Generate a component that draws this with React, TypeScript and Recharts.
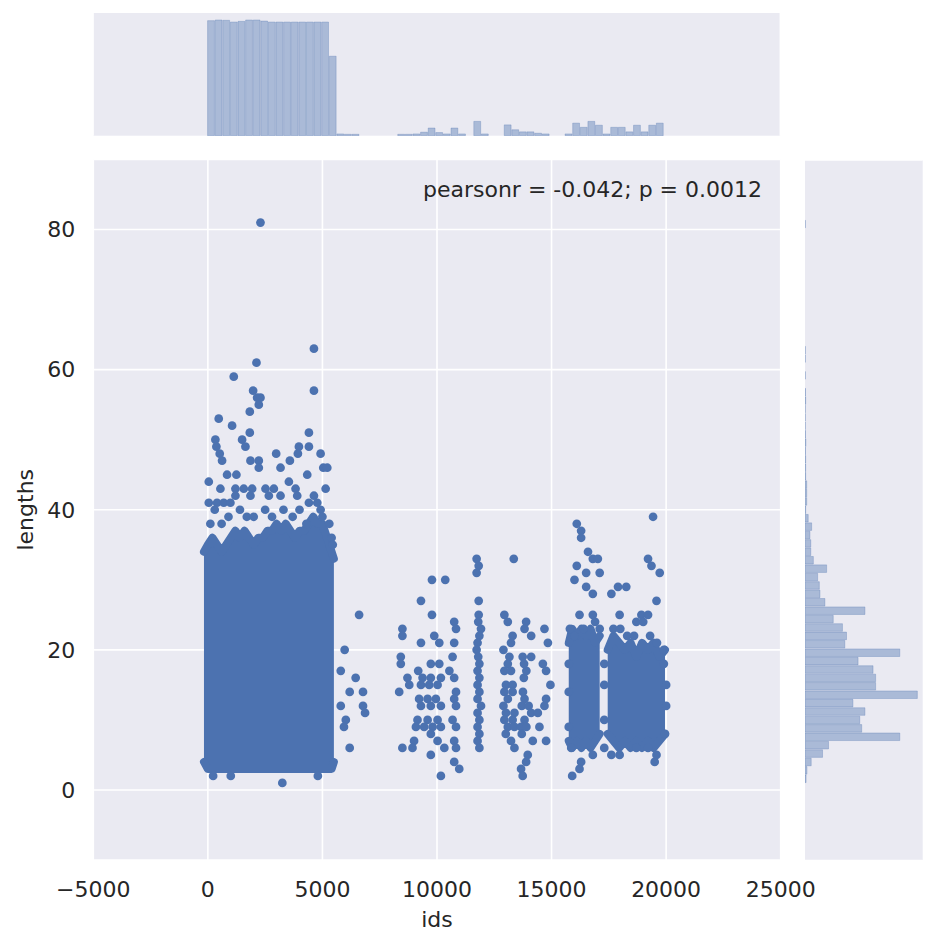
import React from 'react';
import {
  ComposedChart, BarChart, Bar, Area, Scatter, XAxis, YAxis, ZAxis, CartesianGrid, Label
} from 'recharts';

const BLUE = '#4c72b0';
const PANEL = '#eaeaf2';
const INK = '#262626';
const FONT = '"DejaVu Sans", sans-serif';

const W = 938;
const H = 947;
// panel edges in px
const MAIN = { left: 93.3, top: 159.5, right: 780.7, bottom: 860 };
const TOP = { top: 13, bottom: 135.7 };
const SIDE = { left: 805, right: 922.7 };

const xDomain = [-5000, 25000];
const yDomain = [-10, 90];
const xTicks = [-5000, 0, 5000, 10000, 15000, 20000, 25000];
const yTicks = [0, 20, 40, 60, 80];

// top marginal histogram of ids: 60 bins of 332 starting at 0
const idBinWidth = 332;
const idCounts = [
  330, 332, 331, 326, 328, 332, 332, 329, 326, 326, 326, 326, 326, 326, 326, 326,
  228, 5, 4, 4, 0, 0, 0, 0, 0, 4, 4, 5, 10, 22,
  9, 5, 22, 5, 0, 41, 5, 0, 0, 31, 17, 11, 11, 7, 5, 0, 0, 5, 36, 24,
  41, 30, 5, 24, 24, 11, 30, 11, 30, 36,
];
const idCountMax = 352;

// right marginal histogram of lengths: bins of 1.2 starting at 1
const lenBinStart = 1;
const lenBinWidth = 1.2;
const lenCounts = [
  5, 9, 29, 82, 110, 443, 265, 256, 280, 224,
  525, 330, 330, 318, 248, 443, 186, 194, 175, 132,
  280, 93, 70, 67, 59, 101, 39, 27, 27, 23,
  31, 15, 3, 8, 8, 8, 3, 3, 3, 2,
  4, 2, 1, 1, 1, 3, 2, 0, 1, 0,
  1, 1, 0, 0, 0, 0, 0, 0, 0, 0,
  0, 0, 0, 0, 0, 0, 1,
];
const lenCountMax = 550;

// solid mass of overlapping dots, ids 0..5500 (outline of dot centres)
const massIds = [-170, 0, 200, 400, 600, 800, 1000, 1200, 1400, 1600, 1800, 2000, 2200, 2400, 2600, 2800, 3000, 3200, 3400, 3600, 3800, 4000, 4200, 4400, 4600, 4800, 5000, 5200, 5400, 5500];
const massLow = [4, 3, 3, 3, 3, 3, 3, 3, 3, 3, 3, 3, 3, 3, 3, 3, 3, 3, 3, 3, 3, 3, 3, 3, 3, 3, 3, 3, 3, 4];
const massHigh = [34, 35, 36, 35, 34, 35, 36, 37, 36, 37, 36, 35, 36, 36, 37, 37, 38, 37, 38, 37, 36, 37, 37, 38, 39, 38, 38, 36, 34, 33];

// dense clusters at the high ids
const clusterAIds = [15750, 15900, 16100, 16300, 16500, 16700, 16900, 17100];
const clusterALow = [7, 6, 7, 6, 7, 6, 7, 8];
const clusterAHigh = [21, 23, 22, 23, 22, 23, 21, 22];
const clusterBIds = [17450, 17700, 17950, 18200, 18450, 18700, 18950, 19200, 19450, 19700, 19950];
const clusterBLow = [8, 7, 6, 7, 6, 7, 6, 7, 6, 7, 8];
const clusterBHigh = [20, 22, 21, 20, 21, 19, 21, 20, 21, 19, 20];

// single points [id, length]
const upperPoints = [
  [2296, 81], [4629, 63], [2121, 61], [1130, 59], [4629, 57], [1975, 57], [2150, 56], [2296, 56],
  [2223, 55], [1830, 54], [474, 53], [1057, 52], [328, 50], [372, 49], [517, 48], [620, 47],
  [1494, 50], [1640, 49], [1830, 51], [4410, 51], [4410, 49], [3973, 49], [3929, 48], [2981, 48],
  [4920, 48], [3579, 47], [3171, 46], [1859, 47], [2223, 47], [2223, 46], [4337, 45], [5037, 46],
  [5212, 46], [838, 45], [1246, 45], [40, 44], [547, 43], [1203, 43], [1567, 43], [1932, 43],
  [1203, 42], [1859, 42], [2515, 43], [2880, 43], [3171, 42], [2661, 42], [3536, 44], [3827, 43],
  [3900, 42], [5140, 43], [40, 41], [401, 41], [693, 41], [984, 41], [4629, 42], [4775, 41],
  [4410, 41], [4920, 40], [109, 38], [300, 40], [900, 39], [1400, 40], [1700, 39], [2500, 40],
  [2800, 39], [3300, 40], [3700, 39], [4000, 40], [4300, 38], [5000, 39], [5300, 38], [600, 38],
  [2000, 39], [5400, 36], [5450, 35], [230, 2], [3250, 1], [1000, 2], [4800, 2],
];

const middlePoints = [
  [6600, 25], [5970, 20], [6450, 16], [6190, 14], [6770, 14], [6770, 12], [6860, 11], [6020, 10],
  [5940, 9], [6190, 6], [5800, 17], [5800, 12],
  [8490, 23], [8490, 22], [8420, 19], [8420, 18], [8710, 16], [8790, 15], [8350, 14], [8490, 6],
  [9000, 7], [8930, 6], [9180, 17], [9300, 27], [9300, 21],
  [9780, 30], [10360, 30], [9780, 25], [9880, 22], [10100, 21], [9730, 18], [10100, 18],
  [9370, 16], [9730, 16], [10170, 16], [9300, 15], [9660, 15], [10025, 15], [9220, 13], [9590, 13],
  [9950, 13], [9300, 12], [9730, 12], [10170, 12], [9150, 10], [9590, 10], [10025, 10], [9080, 9],
  [9440, 9], [9810, 9], [10170, 9], [9730, 8], [10025, 7], [10320, 6], [9730, 5], [10170, 2],
  [10750, 24], [10830, 23], [10750, 21], [10680, 19], [10540, 17], [10750, 16], [10830, 14],
  [10750, 13], [10830, 12], [10680, 10], [10830, 9], [10750, 7], [10830, 6], [10750, 4], [10970, 3],
  [11730, 33], [11820, 32], [11730, 31], [11820, 27], [11820, 25], [11800, 24], [11920, 23],
  [11850, 22], [11770, 21], [11730, 20], [11800, 19], [11850, 18], [11770, 17], [11850, 16],
  [11770, 15], [11850, 14], [11770, 13], [11920, 12], [11770, 11], [11850, 10], [11770, 9],
  [11850, 8], [11770, 7], [11850, 6],
  [13350, 33],
  [12940, 25], [13090, 24], [13300, 22], [13230, 21], [12900, 20], [13160, 19], [13090, 18],
  [12940, 17], [13230, 17], [13010, 15], [13300, 15], [12940, 14], [13300, 14], [13090, 13],
  [12900, 12], [13010, 11], [13380, 11], [12940, 10], [13300, 10], [13090, 9], [13380, 9],
  [13000, 8], [13230, 7], [13380, 6],
  [13890, 24], [13820, 23], [14110, 22], [13740, 19], [14110, 19], [13790, 16], [14690, 23],
  [14840, 21], [14620, 18], [14760, 17], [14950, 15], [14760, 13], [14690, 12], [13820, 13],
  [14110, 11], [13820, 10], [14400, 11], [13670, 9], [14470, 9], [14180, 7], [14760, 7],
  [13960, 5], [13890, 4], [13670, 3], [13740, 2], [13700, 12], [13750, 14], [13700, 8],
  [13900, 9], [14000, 12], [13900, 17], [13800, 18],
];

const farPoints = [
  [16100, 38], [16290, 37], [16290, 36], [16590, 34], [16800, 33], [17020, 33], [16100, 32],
  [16000, 30], [16510, 31], [17100, 31], [16510, 29], [16800, 28], [17610, 28], [17900, 29],
  [18260, 29], [19430, 39], [19210, 33], [19360, 32], [19720, 31], [19580, 27], [16220, 25],
  [16800, 25], [17970, 25], [18920, 25], [19210, 25], [18700, 24],
  [15860, 6], [16290, 4], [16220, 3], [15900, 2], [16800, 5], [17610, 5], [17970, 5], [19500, 4],
  [19580, 5], [19210, 6], [18700, 6], [17300, 6],
  [15800, 23], [16000, 22], [16400, 23], [16900, 24], [17100, 23], [17700, 23], [18000, 23],
  [18300, 22], [18600, 22], [19000, 24], [19300, 22], [19600, 21], [19900, 20], [19900, 18],
  [17300, 10], [17300, 15], [17300, 18], [15750, 14], [15750, 9], [15750, 18], [20000, 12],
  [20000, 15], [19950, 8],
];

const toRange = (ids: number[], lo: number[], hi: number[]) =>
  ids.map((x, i) => ({ x, range: [lo[i], hi[i]] }));
const toPoints = (pts: number[][]) => pts.map(([x, y]) => ({ x, y }));

const massData = toRange(massIds, massLow, massHigh);
const clusterAData = toRange(clusterAIds, clusterALow, clusterAHigh);
const clusterBData = toRange(clusterBIds, clusterBLow, clusterBHigh);
const pointData = toPoints([...upperPoints, ...middlePoints, ...farPoints]);

const idBins = idCounts.map((count, i) => ({ mid: (i + 0.5) * idBinWidth, count }));
const lenBins = lenCounts.map((count, i) => ({ mid: lenBinStart + (i + 0.5) * lenBinWidth, count }));

const mainW = MAIN.right - MAIN.left;
const mainH = MAIN.bottom - MAIN.top;
const idBarPx = (idBinWidth * mainW) / (xDomain[1] - xDomain[0]);
const lenBarPx = (lenBinWidth * mainH) / (yDomain[1] - yDomain[0]);

const minus = (v: number) => String(v).replace('-', '\u2212');
const tickStyle = { fill: INK, fontSize: 22, fontFamily: FONT };
const noMargin = { top: 0, right: 0, bottom: 0, left: 0 };

const App: React.FC = () => {
  const massProps = {
    type: 'linear' as const,
    dataKey: 'range',
    fill: BLUE,
    fillOpacity: 1,
    stroke: BLUE,
    strokeWidth: 8,
    strokeLinejoin: 'round' as const,
    strokeLinecap: 'round' as const,
    dot: false,
    activeDot: false,
    isAnimationActive: false,
  };

  return (
    <div style={{ position: 'absolute', left: 0, top: 0, width: W, height: H, background: '#fff', fontFamily: FONT }}>
      <ComposedChart width={W} height={H} margin={{ top: MAIN.top, right: W - MAIN.right, bottom: 0, left: 0 }}>
        <CartesianGrid fill={PANEL} fillOpacity={1} stroke="#fff" strokeWidth={1.6} />
        <XAxis
          type="number"
          dataKey="x"
          domain={xDomain}
          ticks={xTicks}
          tickFormatter={minus}
          height={H - MAIN.bottom}
          axisLine={false}
          tickLine={false}
          tickSize={0}
          tickMargin={21}
          tick={tickStyle}
          interval={0}
        >
          <Label value="ids" position="insideBottom" offset={20} fill={INK} fontSize={22} fontFamily={FONT} />
        </XAxis>
        <YAxis
          type="number"
          domain={yDomain}
          ticks={yTicks}
          width={MAIN.left}
          axisLine={false}
          tickLine={false}
          tickSize={0}
          tickMargin={18}
          tick={tickStyle}
          interval={0}
        >
          <Label
            value="lengths"
            angle={-90}
            position="insideLeft"
            offset={25}
            fill={INK}
            fontSize={22}
            fontFamily={FONT}
            style={{ textAnchor: 'middle' }}
          />
        </YAxis>
        <ZAxis range={[60, 60]} />
        <Area data={massData} {...massProps} />
        <Area data={clusterAData} {...massProps} />
        <Area data={clusterBData} {...massProps} />
        <Scatter data={pointData} dataKey="y" fill={BLUE} isAnimationActive={false} />
      </ComposedChart>

      <div
        style={{
          position: 'absolute', left: 0, top: 178, width: 762, textAlign: 'right',
          fontSize: 22, lineHeight: '24px', color: INK, whiteSpace: 'nowrap',
        }}
      >
        pearsonr = -0.042; p = 0.0012
      </div>

      <div style={{ position: 'absolute', left: MAIN.left, top: TOP.top }}>
        <BarChart width={mainW} height={TOP.bottom - TOP.top} data={idBins} margin={noMargin}>
          <CartesianGrid horizontal={false} fill={PANEL} fillOpacity={1} stroke="#fff" strokeWidth={1.6} />
          <XAxis type="number" dataKey="mid" domain={xDomain} ticks={xTicks} height={0} tick={false} axisLine={false} tickLine={false} />
          <YAxis type="number" domain={[0, idCountMax]} width={0} tick={false} axisLine={false} tickLine={false} />
          <Bar dataKey="count" barSize={idBarPx} fill={BLUE} fillOpacity={0.4} stroke={BLUE} strokeOpacity={0.3} isAnimationActive={false} />
        </BarChart>
      </div>

      <div style={{ position: 'absolute', left: SIDE.left, top: MAIN.top }}>
        <BarChart layout="vertical" width={SIDE.right - SIDE.left} height={mainH} data={lenBins} margin={noMargin}>
          <CartesianGrid vertical={false} fill={PANEL} fillOpacity={1} stroke="#fff" strokeWidth={1.6} />
          <XAxis type="number" domain={[0, lenCountMax]} height={0} tick={false} axisLine={false} tickLine={false} />
          <YAxis type="number" dataKey="mid" domain={yDomain} ticks={yTicks} reversed width={0} tick={false} axisLine={false} tickLine={false} />
          <Bar dataKey="count" barSize={lenBarPx} fill={BLUE} fillOpacity={0.4} stroke={BLUE} strokeOpacity={0.3} isAnimationActive={false} />
        </BarChart>
      </div>
    </div>
  );
};

export default App;
